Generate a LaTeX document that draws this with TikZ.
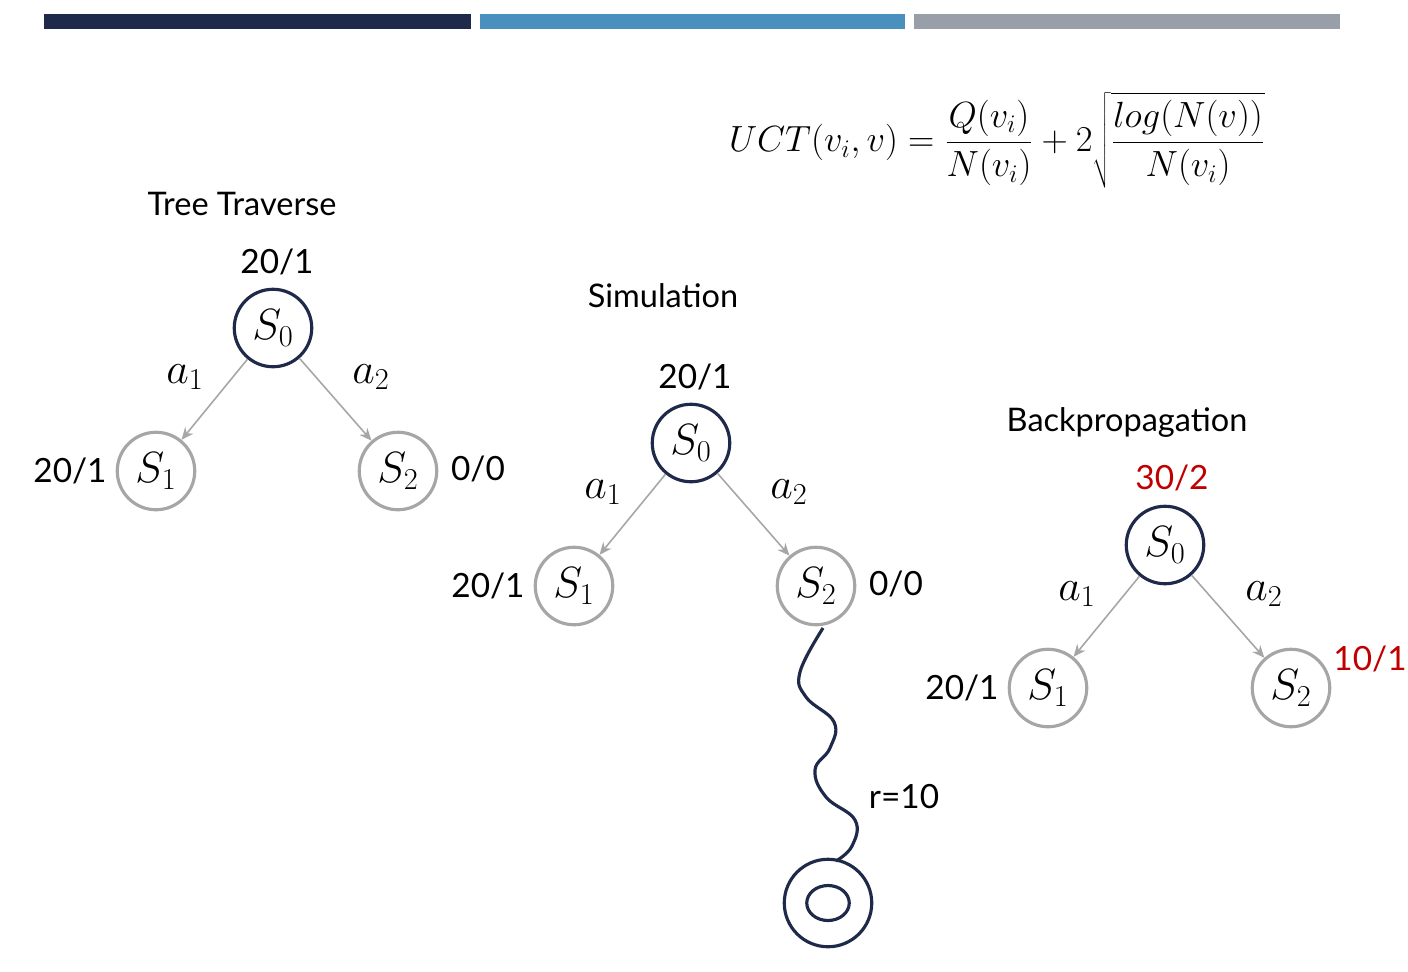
\documentclass[tikz,border=0pt]{standalone}
\usepackage{fontspec}
\setmainfont{Lato}
\usetikzlibrary{shapes.geometric,arrows.meta}
\begin{document}
\definecolor{navy}{HTML}{1F2A4A}
\definecolor{bblue}{HTML}{4A90BE}
\definecolor{bgray}{HTML}{989FA8}
\definecolor{cgray}{HTML}{A6A6A6}
\definecolor{dred}{HTML}{C00000}
\begin{tikzpicture}[x=0.02cm,y=-0.02cm,
  txt/.style={font=\fontsize{19}{23}\selectfont},
  ttl/.style={font=\fontsize{18.5}{22}\selectfont},
  root/.style={draw=navy,line width=1.8pt,circle,minimum size=1.55cm,inner sep=0pt,font=\fontsize{24}{28}\selectfont},
  leaf/.style={draw=cgray,line width=1.8pt,circle,minimum size=1.55cm,inner sep=0pt,font=\fontsize{24}{28}\selectfont},
  edge/.style={draw=cgray,line width=0.9pt,-{Stealth[length=7pt,width=6pt]}},
  lab/.style={font=\fontsize{24}{28}\selectfont}]
\useasboundingbox (0,0) rectangle (1408,971);
\fill[navy] (44,14) rectangle (471,29);
\fill[bblue] (480,14) rectangle (905,29);
\fill[bgray] (914,14) rectangle (1340,29);
\node[font=\fontsize{21}{25}\selectfont] (f) at (997,140) {$\displaystyle UCT(v_i,v)=\frac{Q(v_i)}{N(v_i)}+2\sqrt{\frac{log(N(v))}{N(v_i)}}$};
% tree 1
\node[ttl] (t1) at (242,204) {Tree Traverse};
\node[root] (a0) at (273,328) {$S_0$};
\node[leaf] (a1) at (156,471) {$S_1$};
\node[leaf] (a2) at (398,471) {$S_2$};
\draw[edge] (a0) -- (a1); \draw[edge] (a0) -- (a2);
\node[txt] (a0l) at (277,262) {20/1};
\node[lab] (a1a) at (185,377) {$a_1$};
\node[lab] (a2a) at (371,377) {$a_2$};
\node[txt] (a1l) at (70,471) {20/1};
\node[txt] (a2l) at (478,469) {0/0};
% tree 2
\node[ttl] (t2) at (663,296) {Simulation};
\node[root] (b0) at (691,443) {$S_0$};
\node[leaf] (b1) at (574,586) {$S_1$};
\node[leaf] (b2) at (816,586) {$S_2$};
\draw[edge] (b0) -- (b1); \draw[edge] (b0) -- (b2);
\node[txt] (b0l) at (695,377) {20/1};
\node[lab] (b1a) at (603,492) {$a_1$};
\node[lab] (b2a) at (789,492) {$a_2$};
\node[txt] (b1l) at (488,586) {20/1};
\node[txt] (b2l) at (896,584) {0/0};
\node[draw=navy,line width=1.8pt,circle,minimum size=1.75cm] (end) at (828,903) {};
\node[draw=navy,line width=1.8pt,ellipse,minimum width=0.85cm,minimum height=0.7cm,inner sep=0pt] (endi) at (828,903) {};
\draw[navy,line width=1.8pt] plot[smooth,tension=0.7] coordinates {(823,628) (800,672) (806,697) (834,722) (830,748) (815,770) (826,797) (855,820) (852,846) (836,861)};
\node[txt] (r) at (904,797) {r=10};
% tree 3
\node[ttl] (t3) at (1127,422) {Backpropagation};
\node[root] (c0) at (1165,545) {$S_0$};
\node[leaf] (c1) at (1048,688) {$S_1$};
\node[leaf] (c2) at (1291,688) {$S_2$};
\draw[edge] (c0) -- (c1); \draw[edge] (c0) -- (c2);
\node[txt,text=dred] (c0l) at (1172,478) {30/2};
\node[lab] (c1a) at (1077,594) {$a_1$};
\node[lab] (c2a) at (1264,594) {$a_2$};
\node[txt] (c1l) at (962,688) {20/1};
\node[txt,text=dred] (c2l) at (1370,659) {10/1};
\end{tikzpicture}
\end{document}
